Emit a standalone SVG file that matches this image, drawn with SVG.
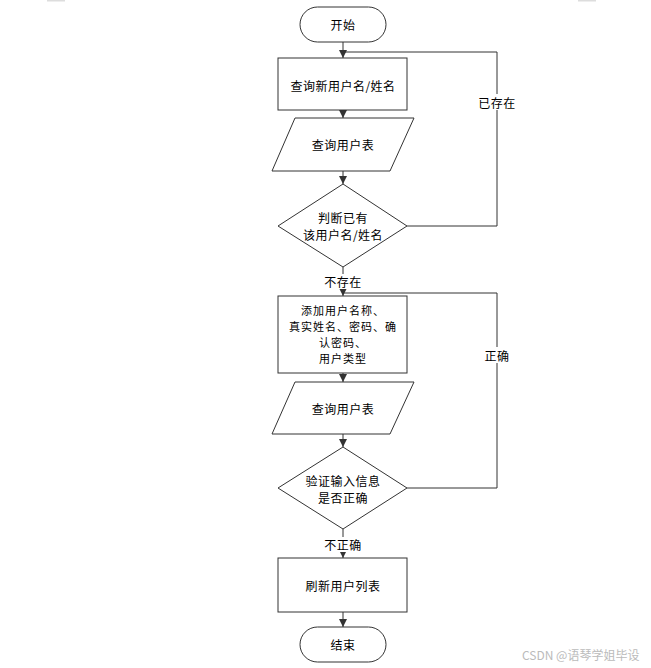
<svg xmlns="http://www.w3.org/2000/svg" width="651" height="668" viewBox="0 0 651 668">
<style>
.s{fill:#fff;stroke:#333;stroke-width:1}
.c{fill:none;stroke:#333;stroke-width:1}
text{font-family:"Noto Sans CJK SC","Liberation Sans",sans-serif;font-size:12px;fill:#000;text-anchor:middle;dominant-baseline:central;letter-spacing:0.5px}
.m{font-size:11px;letter-spacing:1px}
.lb{fill:#fff;stroke:none}
.wm{font-size:12px;fill:#bbb;text-anchor:start;letter-spacing:0}
</style>
<defs>
<marker id="a" viewBox="0 0 8 8" refX="8" refY="4" markerWidth="8" markerHeight="8" markerUnits="userSpaceOnUse" orient="auto">
<path d="M0,0 L8,4 L0,8 z" fill="#333"/>
</marker>
</defs>
<rect x="47" y="0" width="18" height="1.5" fill="#ddd"/>
<rect x="578" y="0" width="18" height="1.5" fill="#ddd"/>
<g id="connectors">
<path class="c" d="M343,42 V58" marker-end="url(#a)"/>
<path class="c" d="M343,110 V118" marker-end="url(#a)"/>
<path class="c" d="M343,171 V184" marker-end="url(#a)"/>
<path class="c" d="M407,226 H497 V52 H343" />
<path class="c" d="M343,267 V296" marker-end="url(#a)"/>
<path class="c" d="M343,373 V382" marker-end="url(#a)"/>
<path class="c" d="M343,434 V447" marker-end="url(#a)"/>
<path class="c" d="M407,488 H497 V293 H343" />
<path class="c" d="M343,529 V558" marker-end="url(#a)"/>
<path class="c" d="M343,612 V627" marker-end="url(#a)"/>
<rect class="lb" x="477" y="94" width="40" height="16"/>
<text x="497" y="102">已存在</text>
<rect class="lb" x="321" y="274" width="44" height="15"/>
<text x="343" y="281">不存在</text>
<rect class="lb" x="482" y="347" width="30" height="16"/>
<text x="497" y="355">正确</text>
<rect class="lb" x="321" y="537" width="44" height="15"/>
<text x="343" y="544">不正确</text>
</g>
<g id="start">
<rect class="s" x="300" y="7" width="86" height="35" rx="17.5"/>
<text x="343" y="24.5">开始</text>
</g>
<g id="query-name">
<rect class="s" x="278" y="58" width="129" height="52"/>
<text x="343" y="85">查询新用户名/姓名</text>
</g>
<g id="query-table1">
<polygon class="s" points="295,118 414,118 390,171 272,171"/>
<text x="343" y="144">查询用户表</text>
</g>
<g id="check-exists">
<polygon class="s" points="343,184 407,226 343,267 278,226"/>
<text x="343" y="217">判断已有</text>
<text x="343" y="234">该用户名/姓名</text>
</g>
<g id="add-info">
<rect class="s" x="278" y="296" width="129" height="77"/>
<text class="m" x="343" y="310">添加用户名称、</text>
<text class="m" x="343" y="326">真实姓名、密码、确</text>
<text class="m" x="343" y="342">认密码、</text>
<text class="m" x="343" y="358">用户类型</text>
</g>
<g id="query-table2">
<polygon class="s" points="295,382 414,382 390,434 272,434"/>
<text x="343" y="408">查询用户表</text>
</g>
<g id="verify">
<polygon class="s" points="343,447 407,488 343,529 278,488"/>
<text x="343" y="480">验证输入信息</text>
<text x="343" y="497">是否正确</text>
</g>
<g id="refresh">
<rect class="s" x="278" y="558" width="129" height="54"/>
<text x="343" y="585">刷新用户列表</text>
</g>
<g id="end">
<rect class="s" x="300" y="627" width="86" height="35" rx="17.5"/>
<text x="343" y="644.5">结束</text>
</g>
<text class="wm" x="522" y="654">CSDN @语琴学姐毕设</text>
</svg>
